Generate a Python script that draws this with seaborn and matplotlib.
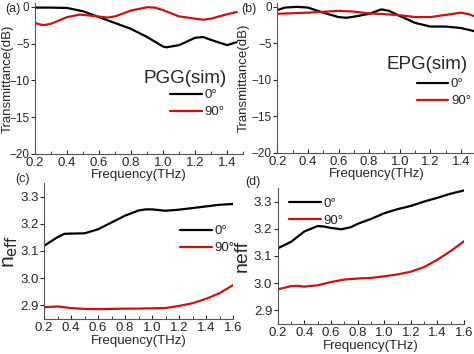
import matplotlib
matplotlib.use("Agg")
import matplotlib.pyplot as plt
import seaborn as sns
from matplotlib.ticker import MultipleLocator

sns.set_style("ticks")
plt.rcParams['font.family'] = ['Liberation Sans', 'DejaVu Sans']
plt.rcParams['font.size'] = 9

# (a) PGG(sim) transmittance
fa0 = [0.2, 0.3, 0.4, 0.5, 0.6, 0.7, 0.8, 0.9, 1.0, 1.02, 1.1, 1.2, 1.25, 1.3, 1.4, 1.46]
ta0 = [-0.1, -0.1, -0.15, -0.6, -1.4, -2.2, -3.0, -4.1, -5.4, -5.5, -5.2, -4.2, -4.1, -4.5, -5.2, -4.8]
fa90 = [0.2, 0.25, 0.3, 0.4, 0.48, 0.55, 0.65, 0.7, 0.8, 0.9, 0.95, 1.0, 1.1, 1.25, 1.3, 1.4, 1.46]
ta90 = [-2.2, -2.5, -2.3, -1.4, -1.05, -1.2, -1.45, -1.3, -0.5, -0.05, -0.1, -0.45, -1.3, -1.75, -1.6, -1.0, -0.7]

# (b) EPG(sim) transmittance
fb0 = [0.2, 0.25, 0.33, 0.4, 0.5, 0.6, 0.65, 0.7, 0.8, 0.88, 0.93, 1.0, 1.1, 1.2, 1.3, 1.4, 1.5]
tb0 = [-0.45, -0.1, 0.0, -0.1, -0.8, -1.4, -1.5, -1.35, -0.95, -0.35, -0.55, -1.25, -2.2, -2.7, -2.7, -2.9, -3.4]
fb90 = [0.2, 0.4, 0.6, 0.7, 0.8, 0.9, 1.0, 1.1, 1.2, 1.3, 1.4, 1.45, 1.5]
tb90 = [-0.95, -0.8, -0.55, -0.65, -0.9, -1.0, -1.15, -1.4, -1.4, -1.1, -0.8, -1.0, -1.4]

# (c) neff, PGG
fc = [0.2, 0.3, 0.35, 0.4, 0.5, 0.6, 0.7, 0.8, 0.9, 0.95, 1.0, 1.1, 1.2, 1.3, 1.4, 1.5, 1.6]
nc0 = [3.119, 3.151, 3.163, 3.164, 3.165, 3.18, 3.205, 3.23, 3.249, 3.253, 3.253, 3.248, 3.252, 3.258, 3.264, 3.27, 3.273]
nc90 = [2.893, 2.896, 2.893, 2.89, 2.887, 2.886, 2.887, 2.888, 2.888, 2.889, 2.889, 2.89, 2.898, 2.908, 2.924, 2.945, 2.975]

# (d) neff, EPG
fd0 = [0.2, 0.3, 0.4, 0.5, 0.55, 0.6, 0.68, 0.75, 0.8, 0.9, 1.0, 1.1, 1.2, 1.3, 1.4, 1.5, 1.6]
nd0 = [3.128, 3.152, 3.19, 3.21, 3.208, 3.203, 3.198, 3.206, 3.218, 3.236, 3.257, 3.272, 3.284, 3.3, 3.314, 3.329, 3.341]
fd90 = [0.2, 0.3, 0.35, 0.4, 0.5, 0.6, 0.7, 0.8, 0.9, 1.0, 1.1, 1.2, 1.3, 1.4, 1.5, 1.6]
nd90 = [2.977, 2.989, 2.99, 2.987, 2.992, 3.004, 3.013, 3.017, 3.019, 3.025, 3.032, 3.042, 3.059, 3.086, 3.118, 3.154]

labels = ['0°', '90°']
red = '#d01010'

fig = plt.figure(figsize=(4.74, 3.54), dpi=100)
ax_a = fig.add_axes([0.074, 0.565, 0.439, 0.426])
ax_b = fig.add_axes([0.585, 0.568, 0.42, 0.423])
ax_c = fig.add_axes([0.093, 0.099, 0.399, 0.384])
ax_d = fig.add_axes([0.586, 0.085, 0.393, 0.384])


def style(ax, ysize=9.5):
    sns.despine(ax=ax)
    ax.tick_params(axis='x', direction='in', length=3, pad=2, labelsize=9.5)
    ax.tick_params(axis='x', which='minor', direction='in', length=2)
    ax.tick_params(axis='y', direction='out', length=3, pad=1, labelsize=ysize)
    ax.xaxis.set_minor_locator(MultipleLocator(0.1))
    for s in ax.spines.values():
        s.set_color('#555555')
        s.set_linewidth(0.8)


for ax, f0, t0, f90, t90 in [(ax_a, fa0, ta0, fa90, ta90), (ax_b, fb0, tb0, fb90, tb90)]:
    sns.lineplot(x=f0, y=t0, ax=ax, color='black', lw=1.6, label=labels[0])
    sns.lineplot(x=f90, y=t90, ax=ax, color=red, lw=1.6, label=labels[1])
    ax.set_xlim(0.2, 1.5)
    ax.set_ylim(-20, 0.5)
    ax.set_xticks([0.2, 0.4, 0.6, 0.8, 1.0, 1.2, 1.4])
    ax.set_yticks([0, -5, -10, -15, -20])
    ax.set_xlabel('Frequency(THz)', fontsize=9.5, labelpad=0)
    ax.set_ylabel('Transmittance(dB)', fontsize=9.5)
    style(ax, ysize=8.5)

ax_a.yaxis.set_label_coords(-0.103, 0.5)
ax_b.yaxis.set_label_coords(-0.14, 0.5)

for ax, f0, n0, f90, n90 in [(ax_c, fc, nc0, fc, nc90), (ax_d, fd0, nd0, fd90, nd90)]:
    sns.lineplot(x=f0, y=n0, ax=ax, color='black', lw=1.6, label=labels[0])
    sns.lineplot(x=f90, y=n90, ax=ax, color=red, lw=1.6, label=labels[1])
    ax.set_xlim(0.2, 1.6)
    ax.set_ylim(2.85, 3.35)
    ax.set_xticks([0.2, 0.4, 0.6, 0.8, 1.0, 1.2, 1.4, 1.6])
    ax.set_yticks([2.9, 3.0, 3.1, 3.2, 3.3])
    ax.set_xlabel('Frequency(THz)', fontsize=9.5, labelpad=1)
    style(ax)

ax_c.set_ylabel(r'n$_{\mathrm{eff}}$', fontsize=15, labelpad=0)
ax_d.set_ylabel('neff', fontsize=14, labelpad=2)

leg_kw = dict(frameon=False, fontsize=9.5, handlelength=2.4, handletextpad=0.2,
              labelspacing=0.35, borderpad=0, borderaxespad=0)
ax_a.legend(loc='upper left', bbox_to_anchor=(0.65, 0.43), **leg_kw)
ax_b.legend(loc='upper left', bbox_to_anchor=(0.70, 0.50), **leg_kw)
ax_c.legend(loc='upper left', bbox_to_anchor=(0.72, 0.69), **leg_kw)
ax_d.legend(loc='upper left', bbox_to_anchor=(0.06, 0.93), **leg_kw)

ax_a.text(0.52, 0.50, 'PGG(sim)', transform=ax_a.transAxes, fontsize=13.5, va='center')
ax_b.text(0.55, 0.59, 'EPG(sim)', transform=ax_b.transAxes, fontsize=13.5, va='center')

fig.text(0.012, 0.975, '(a)', fontsize=9, va='center')
fig.text(0.508, 0.975, '(b)', fontsize=9, va='center')
fig.text(0.032, 0.495, '(c)', fontsize=9, va='center')
fig.text(0.518, 0.485, '(d)', fontsize=9, va='center')

fig.savefig('out.png', dpi=100)
